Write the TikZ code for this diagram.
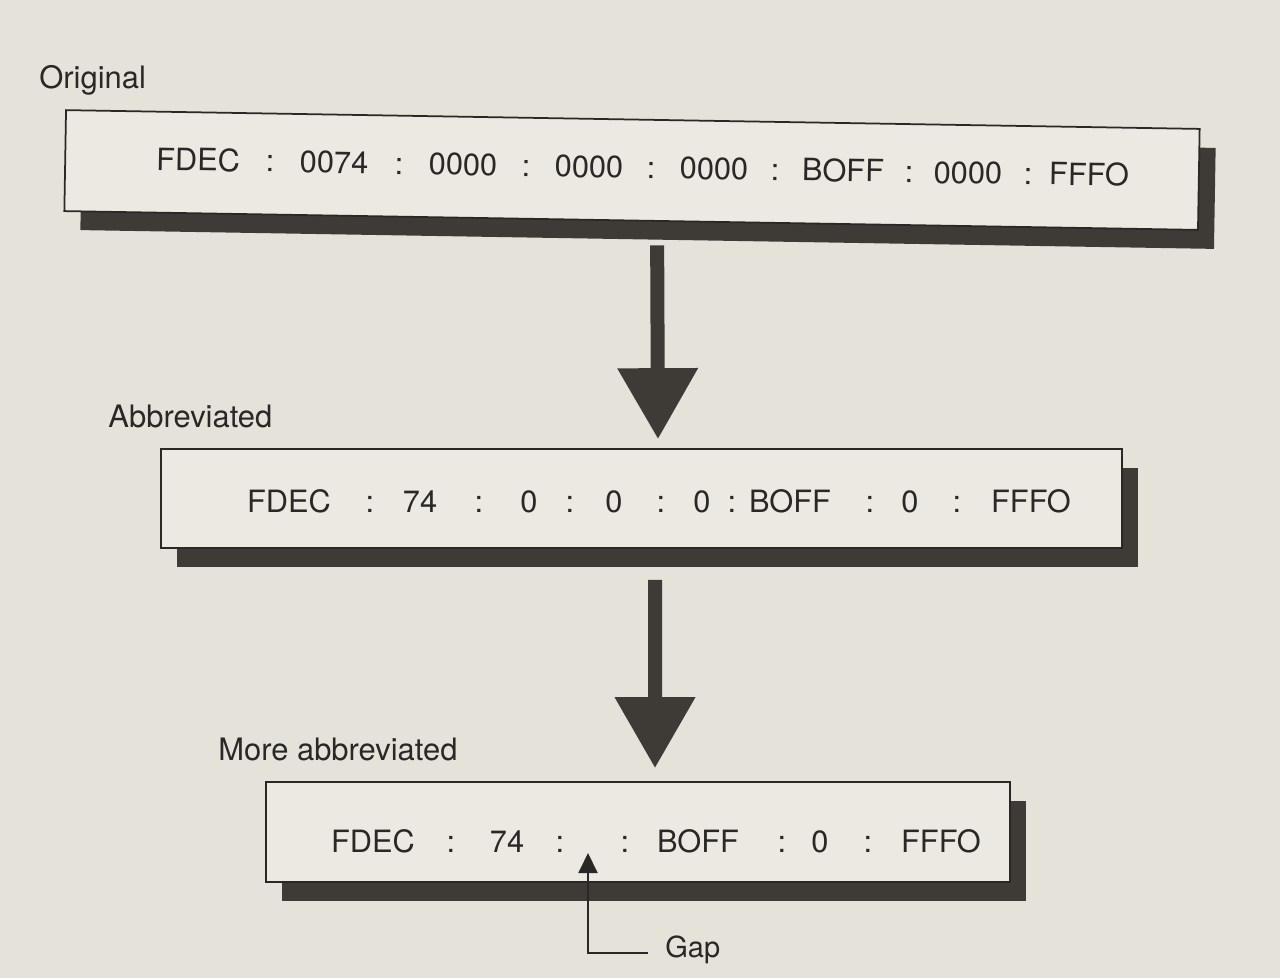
\documentclass[tikz,border=0pt]{standalone}
\usepackage{fontspec}
\setmainfont{TeX Gyre Heros}
\usetikzlibrary{arrows.meta,shadows}
\definecolor{paper}{RGB}{229,226,218}
\definecolor{boxfill}{RGB}{236,233,226}
\definecolor{ink}{RGB}{42,40,38}
\definecolor{shade}{RGB}{62,58,54}
\tikzset{
  addrbox/.style={draw=ink,line width=0.035cm,fill=boxfill,inner sep=0pt,
    drop shadow={shadow xshift=0.32cm,shadow yshift=-0.38cm,fill=shade,opacity=1}},
  tok/.style={text=ink,font=\fontsize{17.5}{20}\selectfont,anchor=base,inner sep=0pt},
  lbl/.style={text=ink,font=\fontsize{17.6}{20}\selectfont,anchor=base west,inner sep=0pt},
  bigarrow/.style={draw=shade,line width=0.28cm,-{Triangle[width=1.54cm,length=1.42cm]}},
  gapline/.style={draw=ink,line width=0.04cm,-{Triangle[width=0.38cm,length=0.4cm]}}
}
\begin{document}
\begin{tikzpicture}[x=0.02cm,y=-0.02cm]
  \fill[paper] (0,0) rectangle (1280,978);
  \useasboundingbox (0,0) rectangle (1280,978);
  % original address
  \node[lbl] (origlbl) at (39,88) {Original};
  \begin{scope}[rotate around={-0.95:(632,170)},transform shape]
    \node[addrbox,minimum width=22.68cm,minimum height=2.02cm] (orig) at (632,170) {};
    \foreach \x/\t in {198/FDEC,270/:,334/0074,399/:,463/0000,526/:,589/0000,651/:,
      714/0000,775/:,843/BOFF,909/:,968/0000,1028/:,1089/FFFO}
      \node[tok] at (\x,178) {\t};
  \end{scope}
  % abbreviated
  \node[lbl] (abbrlbl) at (108,427) {Abbreviated};
  \node[addrbox,minimum width=19.22cm,minimum height=1.98cm] (abbr) at (641.5,498.5) {};
  \foreach \x/\t in {289/FDEC,370/:,420/74,479/:,529/0,570/:,614/0,661/:,
    702/0,732/:,790/BOFF,870/:,910/0,957/:,1031/FFFO}
    \node[tok] at (\x,512) {\t};
  % more abbreviated
  \node[lbl] (morelbl) at (218,760) {More abbreviated};
  \node[addrbox,minimum width=14.88cm,minimum height=2cm] (more) at (638,832) {};
  \foreach \x/\t in {373/FDEC,451/:,507/74,560/:,625/:,698/BOFF,782/:,
    820/0,868/:,941/FFFO}
    \node[tok] at (\x,852) {\t};
  \draw[bigarrow] ([xshift=0.52cm,yshift=-0.48cm]orig.south) -- ([xshift=0.33cm,yshift=0.18cm]abbr.north);
  \draw[bigarrow] ([xshift=0.27cm,yshift=-0.62cm]abbr.south) -- ([xshift=0.34cm,yshift=0.26cm]more.north);
  % gap marker
  \node[lbl,font=\fontsize{16.5}{20}\selectfont] (gap) at (665,957) {Gap};
  \coordinate (gaptip) at (588,853);
  \draw[gapline] ([shift={(-0.34cm,0.08cm)}]gap.base west) -| (gaptip);
\end{tikzpicture}
\end{document}
